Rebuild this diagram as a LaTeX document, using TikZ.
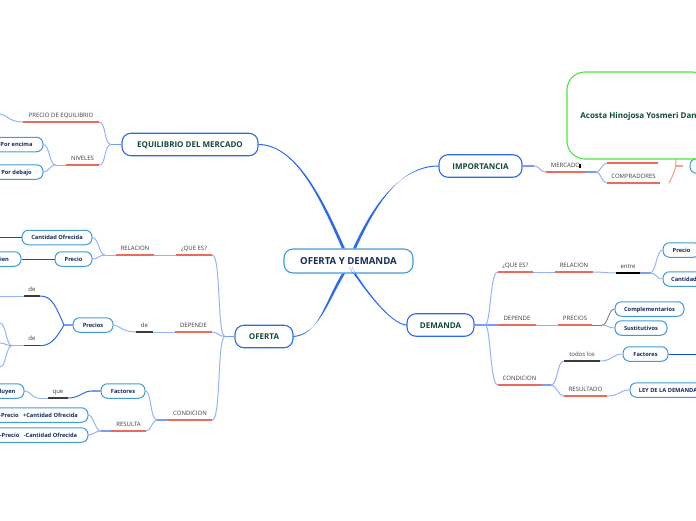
\documentclass[tikz,border=0pt]{standalone}
\usepackage{fontspec}
\setmainfont{Open Sans}
\usepackage{xcolor}
\definecolor{navy}{RGB}{20,44,92}
\definecolor{pine}{RGB}{18,72,62}
\definecolor{skyline}{RGB}{66,155,214}
\definecolor{mainline}{RGB}{45,105,240}
\definecolor{paleline}{RGB}{150,178,250}
\definecolor{deepline}{RGB}{15,75,215}
\definecolor{redline}{RGB}{232,108,92}
\definecolor{darkline}{RGB}{60,60,60}
\definecolor{limeline}{RGB}{70,235,60}
\definecolor{peach}{RGB}{244,165,135}
\tikzset{
	centernode/.style={draw=skyline, line width=1.1pt, fill=white, rounded corners=9pt, minimum height=24pt, inner sep=0pt, text height=7.4pt, text depth=0pt, font=\fontsize{9.6}{11}\selectfont\bfseries, text=navy},
	mainnode/.style={draw=mainline, line width=1.1pt, fill=white, rounded corners=9pt, minimum height=22.5pt, inner sep=0pt, text height=6.5pt, text depth=0pt, font=\fontsize{8}{10}\selectfont\bfseries, text=pine},
	subnode/.style={draw=skyline, line width=1pt, fill=white, rounded corners=6.5pt, minimum height=14.5pt, inner sep=0pt, text height=4.6pt, text depth=0pt, font=\fontsize{5.7}{7}\selectfont\bfseries, text=navy},
	linelabel/.style={anchor=south, inner sep=0pt, minimum height=14pt, text height=4.5pt, text depth=0pt, font=\fontsize{6}{7}\selectfont, text=darkline},
	redbar/.style={draw=redline, line width=1.2pt},
	darkbar/.style={draw=darkline, line width=1.5pt},
	branch/.style={draw=paleline, line width=1pt},
	stub/.style={draw=paleline!70!mainline, line width=1.4pt},
	strong/.style={draw=mainline, line width=1pt},
	deep/.style={draw=deepline, line width=1pt},
	trunk/.style={fill=mainline}
}
\begin{document}
\begin{tikzpicture}[x=1pt, y=-1pt]
\useasboundingbox (0,0) rectangle (696,520);
\clip (0,0) rectangle (696,520);

\node[centernode, minimum width=129] (core) at (348.5,261) {OFERTA Y DEMANDA};
\node[mainnode, minimum width=136] (equilibrio) at (190,144.5) {EQUILIBRIO DEL MERCADO};
\node[mainnode, minimum width=58] (oferta) at (264,336.5) {OFERTA};
\node[mainnode, minimum width=83] (importancia) at (480.5,166) {IMPORTANCIA};
\node[mainnode, minimum width=67] (demanda) at (440.5,325) {DEMANDA};

\fill[trunk] ([yshift=-0.5]equilibrio.east) .. controls +(40,0) and +(-18,-40) .. ([xshift=-6.5]core.north) -- ([xshift=-3.5]core.north) .. controls +(-18,-40) and +(40,0) .. ([yshift=0.5]equilibrio.east);
\fill[trunk] ([yshift=-0.5]importancia.west) .. controls +(-40,0) and +(18,-40) .. ([xshift=4.5]core.north) -- ([xshift=7.5]core.north) .. controls +(18,-40) and +(-40,0) .. ([yshift=0.5]importancia.west);
\fill[trunk] ([yshift=-0.5]oferta.east) .. controls +(25,-2) and +(-18,30) .. ([xshift=-6.5]core.south) -- ([xshift=-3.5]core.south) .. controls +(-18,30) and +(25,-2) .. ([yshift=0.5]oferta.east);
\fill[trunk] ([yshift=-0.5]demanda.west) .. controls +(-25,-2) and +(-18,-30) .. ([xshift=4.5]core.south) -- ([xshift=7.5]core.south) .. controls +(-18,-30) and +(-25,-2) .. ([yshift=0.5]demanda.west);

\node[linelabel, minimum width=76] (precioeq) at (61,122) {PRECIO DE EQUILIBRIO};
\node[linelabel, minimum width=33] (niveles) at (82.5,165) {NIVELES};
\node[subnode, minimum width=53] (encima) at (16.5,144.5) {Por encima};
\node[subnode, minimum width=53] (debajo) at (16.5,172) {Por debajo};
\coordinate (eqjoin) at (111,144.5);
\coordinate (nijoin) at (56,165);
\coordinate (peend) at (0,114);
\draw[redbar] (precioeq.south west) -- (precioeq.south east);
\draw[redbar] (niveles.south west) -- (niveles.south east);
\draw[stub] (equilibrio.west) -- (eqjoin);
\draw[branch] (eqjoin) .. controls +(-7,0) and +(7,0) .. (precioeq.south east);
\draw[branch] (eqjoin) .. controls +(-7,0) and +(7,0) .. (niveles.south east);
\draw[branch] (precioeq.south west) .. controls +(-14,0) and +(6,0) .. (peend);
\draw[branch] (niveles.south west) -- (nijoin);
\draw[branch] (nijoin) .. controls +(-7,0) and +(6,0) .. (encima.east);
\draw[branch] (nijoin) .. controls +(-7,0) and +(6,0) .. (debajo.east);

\node[linelabel, minimum width=36] (quees) at (194,255) {¿QUE ES?};
\node[linelabel, minimum width=38] (relacion) at (135,255) {RELACION};
\node[subnode, minimum width=70] (cantidad) at (57,237.5) {Cantidad Ofrecida};
\node[subnode, minimum width=37] (precio) at (73.5,259) {Precio};
\node[subnode, minimum width=33] (bien) at (4.5,259) {ien};
\coordinate (ofjoin) at (225,336.5);
\coordinate (rejoin) at (105,255);
\coordinate (caend) at (0,237.5);
\draw[redbar] (quees.south west) -- (quees.south east);
\draw[redbar] (relacion.south west) -- (relacion.south east);
\draw[stub] (oferta.west) -- (ofjoin);
\draw[branch] (ofjoin) .. controls +(-8,0) and +(9,0) .. (quees.south east);
\draw[branch] (quees.south west) -- (relacion.south east);
\draw[branch] (relacion.south west) -- (rejoin);
\draw[branch] (rejoin) .. controls +(-6,0) and +(6,0) .. (cantidad.east);
\draw[branch] (rejoin) .. controls +(-6,0) and +(6,0) .. (precio.east);
\draw[deep] (cantidad.west) -- (caend);
\draw[deep] (precio.west) -- (bien.east);

\node[linelabel, minimum width=37] (depende) at (193.5,332) {DEPENDE};
\node[linelabel, minimum width=17] (dea) at (144.5,332) {de};
\node[subnode, minimum width=40] (precios) at (93,325) {Precios};
\node[linelabel, minimum width=16] (deb) at (32,296) {de};
\node[linelabel, minimum width=16] (dec) at (32,345.7) {de};
\coordinate (prjoin) at (64,325);
\coordinate (dejoin) at (12,345.7);
\coordinate (debend) at (0,296);
\coordinate (defa) at (0,323);
\coordinate (defb) at (0,343);
\coordinate (defc) at (0,367);
\draw[redbar] (depende.south west) -- (depende.south east);
\draw[darkbar] (dea.south west) -- (dea.south east);
\draw[darkbar] (deb.south west) -- (deb.south east);
\draw[darkbar] (dec.south west) -- (dec.south east);
\draw[branch] (ofjoin) .. controls +(-6,0) and +(5,0) .. (depende.south east);
\draw[branch] (depende.south west) -- (dea.south east);
\draw[branch] (dea.south west) .. controls +(-14,0) and +(6,0) .. (precios.east);
\draw[stub] (precios.west) -- (prjoin);
\draw[strong] (prjoin) .. controls +(-8,-18) and +(12,0) .. (deb.south east);
\draw[strong] (prjoin) .. controls +(-8,14) and +(10,0) .. (dec.south east);
\draw[branch] (deb.south west) -- (debend);
\draw[branch] (dec.south west) -- (dejoin);
\draw[branch] (dejoin) .. controls +(-6,0) and +(6,0) .. (defa);
\draw[branch] (dejoin) .. controls +(-6,0) and +(5,0) .. (defb);
\draw[branch] (dejoin) .. controls +(-6,0) and +(6,0) .. (defc);

\node[linelabel, minimum width=44] (condicion) at (190,420) {CONDICION};
\node[linelabel, minimum width=35] (resulta) at (128.5,431) {RESULTA};
\node[subnode, minimum width=44] (factores) at (123,391) {Factores};
\node[linelabel, minimum width=20] (que) at (58,398) {que};
\node[subnode, minimum width=33] (influyen) at (7.5,391) {luyen};
\node[subnode, minimum width=99] (masprecio) at (38.5,415) {-Precio~~~+Cantidad Ofrecida};
\node[subnode, minimum width=99] (menosprecio) at (38.5,435) {-Precio~~~-Cantidad Ofrecida};
\coordinate (cojoin) at (157,420);
\coordinate (rsjoin) at (101,431);
\coordinate (fajoin) at (92,391);
\coordinate (qujoin) at (38,398);
\draw[redbar] (condicion.south west) -- (condicion.south east);
\draw[redbar] (resulta.south west) -- (resulta.south east);
\draw[darkbar] (que.south west) -- (que.south east);
\draw[branch] (ofjoin) .. controls +(-8,0) and +(9,0) .. (condicion.south east);
\draw[stub] (condicion.south west) -- (cojoin);
\draw[branch] (cojoin) .. controls +(-7,0) and +(6,0) .. (factores.east);
\draw[branch] (cojoin) .. controls +(-5,0) and +(5,0) .. (resulta.south east);
\draw[stub] (factores.west) -- (fajoin);
\draw[strong] (fajoin) .. controls +(-10,0) and +(12,0) .. (que.south east);
\draw[branch] (que.south west) -- (qujoin);
\draw[branch] (qujoin) .. controls +(-6,0) and +(6,0) .. (influyen.east);
\draw[stub] (resulta.south west) -- (rsjoin);
\draw[branch] (rsjoin) .. controls +(-6,0) and +(5,0) .. (masprecio.east);
\draw[branch] (rsjoin) .. controls +(-6,0) and +(5,0) .. (menosprecio.east);

\node[linelabel, minimum width=39] (mercado) at (565.5,172) {MERCADO};
\node[linelabel, minimum width=51] (oculto) at (632.5,163) {};
\node[linelabel, minimum width=53] (compradores) at (633.5,183) {COMPRADORES};
\node[subnode, minimum width=30] (cortado) at (705,166) {};
\coordinate (mejoin) at (596,172);
\coordinate (imjoin) at (534,166);
\coordinate (brtop) at (675,155);
\coordinate (brbot) at (669,183);
\coordinate (brmid) at (675.5,166);
\coordinate (brtip) at (683,166);
\fill[black] (578.5,164) rectangle (580.5,167.5);
\draw[redbar] (mercado.south west) -- (mercado.south east);
\draw[redbar] (oculto.south west) -- (oculto.south east);
\draw[redbar] (compradores.south west) -- (compradores.south east);
\draw[stub] (importancia.east) -- (imjoin);
\draw[branch] (imjoin) .. controls +(6,0) and +(-6,0) .. (mercado.south west);
\draw[stub] (mercado.south east) -- (mejoin);
\draw[branch] (mejoin) .. controls +(5,0) and +(-5,0) .. (oculto.south west);
\draw[branch] (mejoin) .. controls +(5,0) and +(-5,0) .. (compradores.south west);
\draw[draw=peach, line width=1.1pt] (brtop) .. controls +(3,12) and +(4,-8) .. (brbot);
\draw[draw=peach, line width=1.1pt] (brmid) -- (brtip);

\node[draw=limeline, line width=1.1pt, fill=white, rounded corners=18pt, minimum width=143, minimum height=87, inner sep=0pt, text height=6.5pt, text depth=0pt, font=\fontsize{8}{10}\selectfont\bfseries, text=pine] (autora) at (638.5,115.5) {Acosta Hinojosa Yosmeri Dan};

\node[linelabel, minimum width=35] (dquees) at (515.5,272) {¿QUE ES?};
\node[linelabel, minimum width=38] (drelacion) at (574,272) {RELACION};
\node[linelabel, minimum width=24] (entre) at (628,273) {entre};
\node[subnode, minimum width=37] (dprecio) at (681.5,250) {Precio};
\node[subnode, minimum width=42] (dcantidad) at (684,279) {Cantidad};
\coordinate (dejoinb) at (485,325);
\coordinate (enjoin) at (650,273);
\draw[redbar] (dquees.south west) -- (dquees.south east);
\draw[redbar] (drelacion.south west) -- (drelacion.south east);
\draw[darkbar, draw=black] (entre.south west) -- (entre.south east);
\draw[stub] (demanda.east) -- (dejoinb);
\draw[branch] (dejoinb) .. controls +(6,0) and +(-8,0) .. (dquees.south west);
\draw[branch] (dquees.south east) -- (drelacion.south west);
\draw[branch] (drelacion.south east) .. controls +(10,0) and +(-10,0) .. (entre.south west);
\draw[stub] (entre.south east) -- (enjoin);
\draw[branch] (enjoin) .. controls +(6,0) and +(-6,0) .. (dprecio.west);
\draw[branch] (enjoin) .. controls +(6,0) and +(-6,0) .. (dcantidad.west);

\node[linelabel, minimum width=38] (ddepende) at (517,325) {DEPENDE};
\node[linelabel, minimum width=34] (dprecios) at (575,325) {PRECIOS};
\node[subnode, minimum width=69] (complementarios) at (649.5,309) {Complementarios};
\node[subnode, minimum width=52] (sustitutivos) at (641,328) {Sustitutivos};
\coordinate (dpjoin) at (602,325);
\draw[redbar] (ddepende.south west) -- (ddepende.south east);
\draw[redbar] (dprecios.south west) -- (dprecios.south east);
\draw[stub] (dejoinb) -- (ddepende.south west);
\draw[branch] (ddepende.south east) -- (dprecios.south west);
\draw[draw=deepline!70, line width=1pt] (dprecios.south east) -- (dpjoin);
\draw[draw=gray, line width=0.9pt] (dpjoin) .. controls +(6,0) and +(-6,0) .. (complementarios.west);
\draw[branch] (dpjoin) .. controls +(6,0) and +(-6,0) .. (sustitutivos.west);

\node[linelabel, minimum width=43] (dcondicion) at (519.5,385) {CONDICION};
\node[linelabel, minimum width=36] (todos) at (582,361) {todos los};
\node[linelabel, minimum width=43] (resultado) at (585.5,396) {RESULTADO};
\node[subnode, minimum width=45] (dfactores) at (645.5,354) {Factores};
\node[subnode, minimum width=76] (ley) at (668,390) {LEY DE LA DEMANDA};
\coordinate (dcjoin) at (551,385);
\coordinate (faend) at (696,354);
\draw[redbar] (dcondicion.south west) -- (dcondicion.south east);
\draw[darkbar] (todos.south west) -- (todos.south east);
\draw[redbar] (resultado.south west) -- (resultado.south east);
\draw[branch] (dejoinb) .. controls +(6,0) and +(-8,0) .. (dcondicion.south west);
\draw[stub] (dcondicion.south east) -- (dcjoin);
\draw[branch] (dcjoin) .. controls +(7,0) and +(-7,0) .. (todos.south west);
\draw[branch] (dcjoin) .. controls +(6,0) and +(-6,0) .. (resultado.south west);
\draw[branch] (todos.south east) .. controls +(12,0) and +(-10,0) .. (dfactores.west);
\draw[deep] (dfactores.east) -- (faend);
\draw[branch] (resultado.south east) .. controls +(12,0) and +(-10,0) .. (ley.west);

\end{tikzpicture}
\end{document}
